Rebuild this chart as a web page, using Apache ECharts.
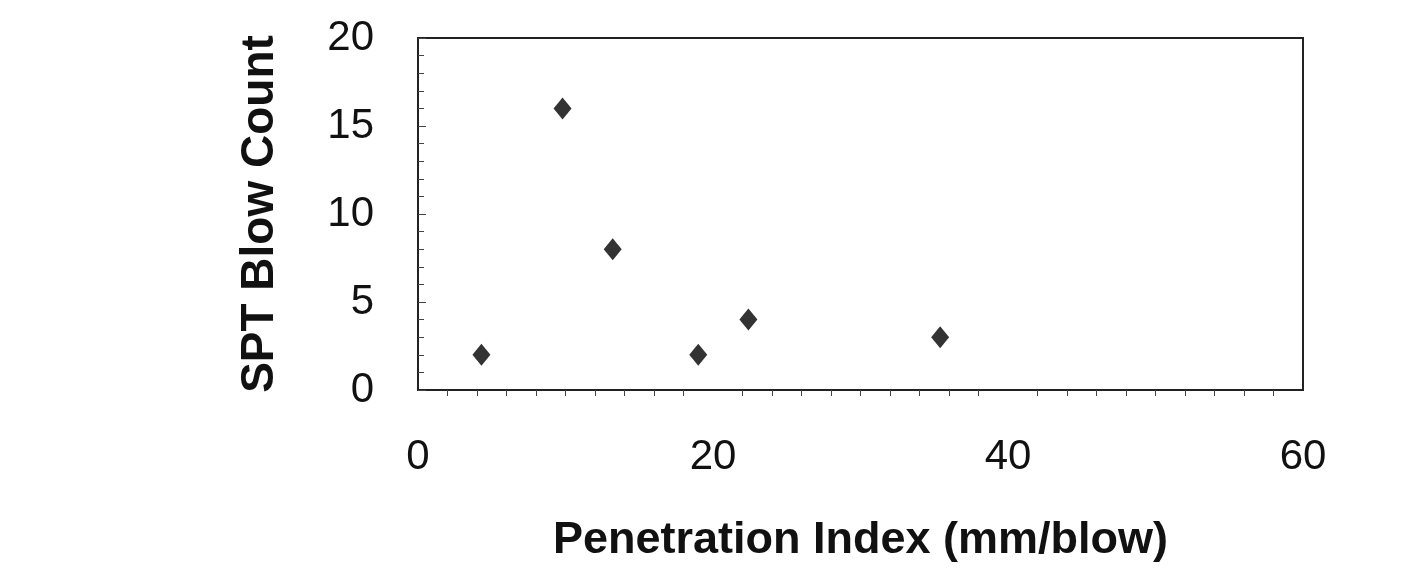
<!DOCTYPE html>
<html>
<head>
<meta charset="utf-8">
<script src="https://cdn.jsdelivr.net/npm/echarts@6/dist/echarts.min.js"></script>
<style>
  html, body { margin: 0; padding: 0; background: #fff; }
  #main { width: 1406px; height: 587px; }
</style>
</head>
<body>
<div id="main"></div>
<script>
// penetration index (mm/blow) vs SPT blow count
const penetration = [4.3, 9.8, 13.2, 19.0, 22.4, 35.4];
const blowCount = [2, 16, 8, 2, 4, 3];

const points = penetration.map((x, i) => [x, blowCount[i]]);

const font = "Liberation Sans, Arial, sans-serif";

var myChart = echarts.init(document.getElementById("main"));
myChart.setOption({
  animation: false,
  grid: {
    left: 418, right: 103, top: 38, bottom: 197,
    show: true, borderColor: "#222", borderWidth: 2, backgroundColor: "transparent"
  },
  xAxis: {
    type: "value", min: 0, max: 60, interval: 20,
    name: "Penetration Index (mm/blow)",
    nameLocation: "middle", nameGap: 128,
    nameTextStyle: { fontFamily: font, fontSize: 45, fontWeight: "bold", color: "#111" },
    axisLine: { show: true, lineStyle: { color: "#222", width: 2 } },
    axisTick: { show: false },
    minorTick: { show: true, splitNumber: 10, length: 6, lineStyle: { color: "#444" } },
    splitLine: { show: false },
    axisLabel: { margin: 46, fontFamily: font, fontSize: 42, color: "#111" }
  },
  yAxis: {
    type: "value", min: 0, max: 20, interval: 5,
    name: "SPT Blow Count",
    nameLocation: "middle", nameGap: 135, nameRotate: 90,
    nameTextStyle: { fontFamily: font, fontSize: 46, fontWeight: "bold", color: "#111" },
    axisLine: { show: true, lineStyle: { color: "#222", width: 2 } },
    axisTick: { show: true, inside: true, length: 8, lineStyle: { color: "#444" } },
    minorTick: { show: true, splitNumber: 5, length: 6, lineStyle: { color: "#444" } },
    splitLine: { show: false },
    axisLabel: { margin: 44, fontFamily: font, fontSize: 42, color: "#111" }
  },
  series: [{
    type: "scatter",
    data: points,
    symbol: "diamond",
    symbolSize: [18, 22],
    itemStyle: { color: "#000" }
  }]
});
</script>
</body>
</html>
